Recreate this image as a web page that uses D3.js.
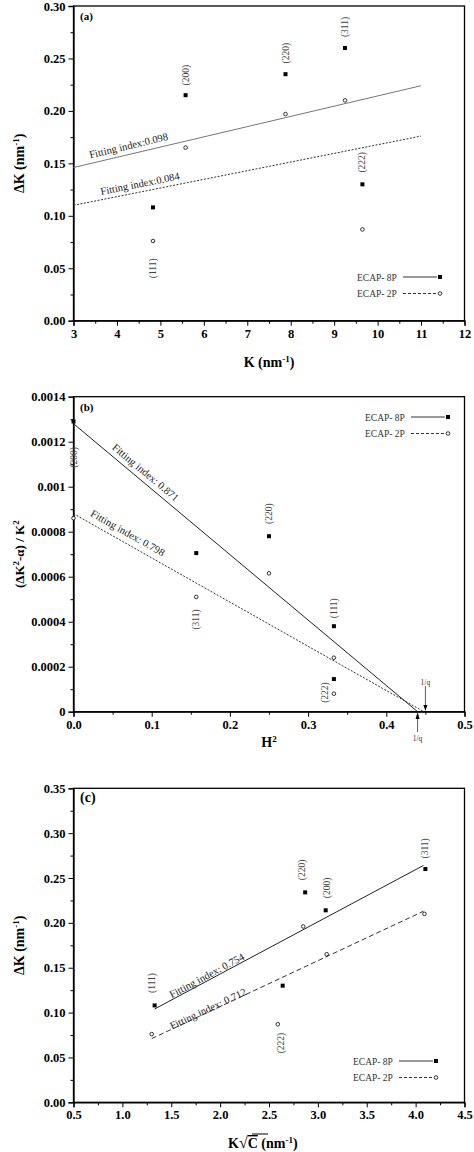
<!DOCTYPE html>
<html><head><meta charset="utf-8">
<script src="https://cdn.jsdelivr.net/npm/d3@7"></script>
<style>body{margin:0;background:#fff}svg text{font-family:"Liberation Serif",serif}</style>
</head><body><svg id="c" width="474" height="1152"></svg>
<script>
// panel (a)
const aK = [4.83, 5.58, 7.88, 9.25, 9.65];
const a8P = [0.108, 0.215, 0.235, 0.26, 0.13];
const a2P = [0.076, 0.165, 0.197, 0.21, 0.087];
const aFit8 = [[3, 0.146], [11, 0.224]];
const aFit2 = [[3, 0.110], [11, 0.176]];
// panel (b)
const bH2 = [0, 0.157, 0.25, 0.333, 0.333];
const b8P = [0.00129, 0.000705, 0.00078, 0.00038, 0.000145];
const b2P = [0.00086, 0.00051, 0.000615, 0.00024, 0.00008];
const bFit8 = [[0, 0.00128], [0.44, 0]];
const bFit2 = [[0, 0.00088], [0.448, 0]];
// panel (c)
const cX8 = [1.33, 2.64, 2.87, 3.08, 4.1];
const cX2 = [1.30, 2.59, 2.85, 3.09, 4.09];
const c8P = [0.108, 0.13, 0.234, 0.214, 0.26];
const c2P = [0.076, 0.087, 0.196, 0.165, 0.21];
const cFit8 = [[1.33, 0.104], [4.08, 0.264]];
const cFit2 = [[1.30, 0.071], [4.08, 0.213]];

const svg = d3.select("#c");

function panel(o) {
  const g = svg.append("g");
  const x = d3.scaleLinear().domain(o.xd).range([73.5, 464.5]);
  const y = d3.scaleLinear().domain(o.yd).range([o.bottom, o.top]);
  const ax = g.append("g").attr("transform", `translate(0,${o.bottom})`)
    .call(d3.axisBottom(x).tickValues(o.xt).tickFormat(o.xf).tickSize(5));
  const ay = g.append("g").attr("transform", "translate(73.5,0)")
    .call(d3.axisLeft(y).tickValues(o.yt).tickFormat(o.yf).tickSize(5));
  g.append("g").attr("transform", "translate(73.5,0)")
    .call(d3.axisLeft(y).tickValues(o.ym).tickFormat("").tickSize(3))
    .select(".domain").remove();
  g.append("g").attr("transform", `translate(0,${o.bottom})`)
    .call(d3.axisBottom(x).tickValues(o.xm).tickFormat("").tickSize(3))
    .select(".domain").remove();
  [ax, ay].forEach(a => a.selectAll("text").attr("font-size", 12.5).attr("font-weight", "bold")
    .attr("font-family", "Liberation Serif"));
  g.selectAll(".domain").attr("stroke-width", 1.3);
  g.append("rect").attr("x", 73.5).attr("y", o.top).attr("width", 391).attr("height", o.bottom - o.top)
    .attr("fill", "none").attr("stroke", "#000").attr("stroke-width", 1.3);
  g.append("text").attr("x", 80).attr("y", o.top + 14).attr("font-size", o.tagSize || 11)
    .attr("font-weight", "bold").text(o.tag);

  const line = d3.line().x(d => x(d[0])).y(d => y(d[1]));
  g.append("path").attr("d", line(o.fit8)).attr("fill", "none").attr("stroke", o.c8 || "#222").attr("stroke-width", 1);
  g.append("path").attr("d", line(o.fit2)).attr("fill", "none").attr("stroke", "#333").attr("stroke-width", 1)
    .attr("stroke-dasharray", o.dash || "2,1.5");

  o.fitText.forEach((t, i) => {
    const f = i === 0 ? o.fit8 : o.fit2;
    const ang = Math.atan2(y(f[1][1]) - y(f[0][1]), x(f[1][0]) - x(f[0][0])) * 180 / Math.PI;
    const p = [x(t.at[0]), y(t.at[1])];
    g.append("text").attr("transform", `translate(${p[0]},${p[1]}) rotate(${ang})`)
      .attr("dy", -3).attr("font-size", 10.5).attr("fill", "#222").text(t.s);
  });

  g.selectAll(".p8").data(o.x8.map((v, i) => [v, o.y8[i]])).join("rect")
    .attr("x", d => x(d[0]) - 2).attr("y", d => y(d[1]) - 2).attr("width", 4).attr("height", 4).attr("fill", "#000");
  g.selectAll(".p2").data(o.x2.map((v, i) => [v, o.y2[i]])).join("circle")
    .attr("cx", d => x(d[0])).attr("cy", d => y(d[1])).attr("r", 1.8)
    .attr("fill", "#fff").attr("stroke", "#000").attr("stroke-width", 0.8);

  o.labels.forEach(l => {
    g.append("text").attr("transform", `translate(${x(l.at[0]) + 3},${y(l.at[1])}) rotate(-90)`)
      .attr("text-anchor", "middle").attr("font-size", 9.5).attr("fill", "#444").text(l.s);
  });

  const [lx, ly] = o.legend;
  ["ECAP- 8P", "ECAP- 2P"].forEach((s, i) => {
    const yy = ly + i * 16.5;
    g.append("text").attr("x", lx).attr("y", yy + 3.5).attr("font-size", 9.5).attr("fill", "#333").text(s);
    g.append("line").attr("x1", lx + 46).attr("x2", lx + 80).attr("y1", yy).attr("y2", yy)
      .attr("stroke", "#333").attr("stroke-dasharray", i ? "3,2" : null);
    if (i === 0) g.append("rect").attr("x", lx + 81).attr("y", yy - 2).attr("width", 4).attr("height", 4);
    else g.append("circle").attr("cx", lx + 83).attr("cy", yy).attr("r", 1.8).attr("fill", "#fff").attr("stroke", "#000").attr("stroke-width", 0.8);
  });

  const yt = g.append("text").attr("transform", `translate(24,${(o.top + o.bottom) / 2}) rotate(-90)`)
    .attr("text-anchor", "middle").attr("font-size", 14).attr("font-weight", "bold");
  o.ytitle(yt);
  const xt = g.append("text").attr("x", 269).attr("y", o.bottom + 46)
    .attr("text-anchor", "middle").attr("font-size", 14).attr("font-weight", "bold");
  o.xtitle(xt);
  return {g, x, y};
}

function sup(t, parts) {
  parts.forEach(p => {
    const s = t.append("tspan").text(p[0]);
    if (p[1]) s.attr("baseline-shift", "super").attr("font-size", 9);
  });
}
const f2 = d3.format(".2f");

panel({
  top: 6, bottom: 320.7, xd: [3, 12], yd: [0, 0.30], tag: "(a)",
  xt: d3.range(3, 13), xf: d3.format("d"), xm: d3.range(3.5, 12, 1),
  yt: d3.range(0, 0.31, 0.05), yf: f2, ym: d3.range(0.025, 0.3, 0.05),
  fit8: aFit8, fit2: aFit2, c8: "#777",
  x8: aK, y8: a8P, x2: aK, y2: a2P,
  fitText: [{s: "Fitting index:0.098", at: [3.4, 0.152]}, {s: "Fitting index:0.084", at: [3.65, 0.117]}],
  labels: [{s: "(111)", at: [4.83, 0.05]}, {s: "(200)", at: [5.58, 0.234]}, {s: "(220)", at: [7.88, 0.255]},
           {s: "(311)", at: [9.25, 0.28]}, {s: "(222)", at: [9.65, 0.151]}],
  legend: [357, 277],
  ytitle: t => sup(t, [["ΔK (nm"], ["-1", 1], [")"]]),
  xtitle: t => sup(t, [["K (nm"], ["-1", 1], [")"]])
});

const pb = panel({
  top: 396.7, bottom: 711.7, xd: [0, 0.5], yd: [0, 0.0014], tag: "(b)",
  xt: d3.range(0, 0.51, 0.1), xf: d3.format(".1f"), xm: d3.range(0.05, 0.5, 0.1),
  yt: d3.range(0, 0.00141, 0.0002), yf: d => d === 0 ? "0" : d3.format(".4~f")(d), ym: d3.range(0.0001, 0.0014, 0.0002),
  fit8: bFit8, fit2: bFit2,
  x8: bH2, y8: b8P, x2: bH2, y2: b2P,
  fitText: [{s: "Fitting index: 0.871", at: [0.046, 0.00116]}, {s: "Fitting index: 0.798", at: [0.019, 0.00086]}],
  labels: [{s: "(200)", at: [0.0, 0.00113]}, {s: "(311)", at: [0.157, 0.00041]}, {s: "(220)", at: [0.25, 0.00088]},
           {s: "(111)", at: [0.333, 0.00046]}, {s: "(222)", at: [0.322, 0.000085]}],
  legend: [365, 417],
  ytitle: t => { t.attr("font-size", 13); sup(t, [["(ΔK"], ["2", 1], ["-α) / K"], ["2", 1]]); },
  xtitle: t => { t.attr("y", 747); sup(t, [["H"], ["2", 1]]); }
});
// 1/q markers
[[0.45, true], [0.44, false]].forEach(([vx, down]) => {
  const xx = pb.x(vx), g = pb.g;
  if (down) {
    g.append("line").attr("x1", xx).attr("x2", xx).attr("y1", 686).attr("y2", 706).attr("stroke", "#333").attr("stroke-width", 0.8);
    g.append("path").attr("d", `M${xx - 2},705L${xx + 2},705L${xx},711Z`);
    g.append("text").attr("x", xx).attr("y", 685).attr("text-anchor", "middle").attr("font-size", 7.5).attr("fill", "#333").text("1/q");
  } else {
    g.append("line").attr("x1", xx).attr("x2", xx).attr("y1", 718).attr("y2", 732).attr("stroke", "#333").attr("stroke-width", 0.8);
    g.append("path").attr("d", `M${xx - 2},719L${xx + 2},719L${xx},712Z`);
    g.append("text").attr("x", xx).attr("y", 741).attr("text-anchor", "middle").attr("font-size", 7.5).attr("fill", "#333").text("1/q");
  }
});

const pc = panel({
  top: 788.3, bottom: 1102.3, xd: [0.5, 4.5], yd: [0, 0.35], tag: "(c)", tagSize: 14,
  xt: d3.range(0.5, 4.51, 0.5), xf: d3.format(".1f"), xm: d3.range(0.75, 4.5, 0.5),
  yt: d3.range(0, 0.351, 0.05), yf: f2, ym: d3.range(0.025, 0.35, 0.05),
  fit8: cFit8, fit2: cFit2, dash: "5,3",
  x8: cX8, y8: c8P, x2: cX2, y2: c2P,
  fitText: [{s: "Fitting index: 0.754", at: [1.52, 0.113]}, {s: "Fitting index: 0.712", at: [1.52, 0.078]}],
  labels: [{s: "(111)", at: [1.3, 0.133]}, {s: "(222)", at: [2.62, 0.066]}, {s: "(220)", at: [2.84, 0.259]},
           {s: "(200)", at: [3.09, 0.239]}, {s: "(311)", at: [4.1, 0.283]}],
  legend: [353, 1061],
  ytitle: t => sup(t, [["ΔK (nm"], ["-1", 1], [")"]]),
  xtitle: () => {}
});
// x title for (c)
{
  const t = pc.g.append("text").attr("x", 228).attr("y", 1148).attr("font-size", 14).attr("font-weight", "bold");
  t.append("tspan").text("K");
  t.append("tspan").attr("font-weight", "normal").attr("font-size", 16).text("√");
  t.append("tspan").attr("text-decoration", "overline").text("C");
  t.append("tspan").text("  (nm");
  t.append("tspan").attr("baseline-shift", "super").attr("font-size", 9).text("-1");
  t.append("tspan").text(")");
  pc.g.append("line").attr("x1", 252).attr("x2", 268).attr("y1", 1134).attr("y2", 1134).attr("stroke", "#000").attr("stroke-width", 1);
}
</script></body></html>
